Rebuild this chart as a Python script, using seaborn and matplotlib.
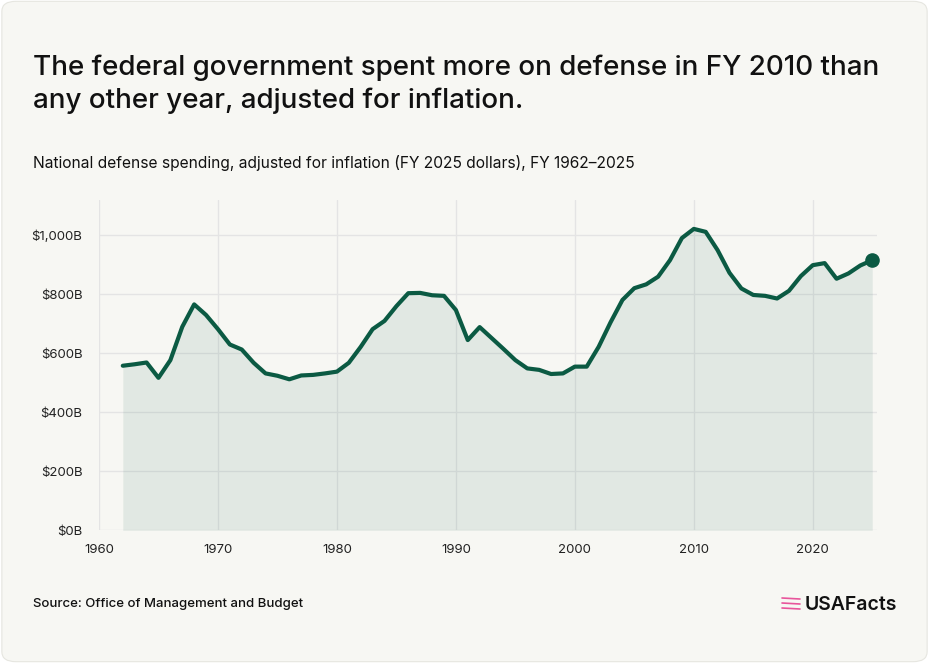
import numpy as np
import pandas as pd
import matplotlib.pyplot as plt
import seaborn as sns
from matplotlib.patches import FancyBboxPatch
from matplotlib.ticker import FuncFormatter

years = list(range(1962, 2026))
spending = [558, 563, 569, 517, 577, 690, 766, 730, 682, 630,
            613, 568, 532, 524, 512, 525, 527, 532, 538, 568,
            622, 682, 710, 760, 804, 805, 797, 795, 747, 645,
            689, 652, 615, 577, 549, 544, 530, 532, 555, 555,
            622, 705, 781, 821, 834, 860, 916, 991, 1022, 1012,
            950, 873, 820, 798, 795, 786, 812, 862, 899, 906,
            853, 871, 898, 916]

df = pd.DataFrame({'year': years, 'spending': spending})

bg = '#f7f7f3'
green = '#0b5a43'

sns.set_theme(style='white')
plt.rcParams['font.family'] = ['Inter', 'DejaVu Sans']

fig = plt.figure(figsize=(9.29, 6.63), dpi=100)
fig.patch.set_facecolor('white')
card = FancyBboxPatch((0.002, 0.002), 0.996, 0.996,
                      boxstyle='round,pad=0,rounding_size=0.015',
                      transform=fig.transFigure, facecolor=bg,
                      edgecolor='#e6e6e0', linewidth=0.8, zorder=-10)
fig.patches.append(card)

ax = fig.add_axes([99 / 929, (663 - 530.3) / 663, 778 / 929, 330.3 / 663])
ax.set_zorder(1)
ax.set_facecolor(bg)

ax.fill_between(df['year'], df['spending'], color=green, alpha=0.09, linewidth=0, zorder=2)
sns.lineplot(data=df, x='year', y='spending', color=green, linewidth=3, ax=ax, zorder=3)
ax.scatter([years[-1]], [spending[-1]], s=90, color=green, zorder=4, clip_on=False)

ax.set_xlim(1960, 2025.4)
ax.set_ylim(0, 1120)
ax.set_xticks(range(1960, 2030, 10))
ax.set_yticks(range(0, 1200, 200))
ax.yaxis.set_major_formatter(FuncFormatter(lambda v, p: f'${int(v):,}B'))
ax.grid(True, color='#e4e4e4', linewidth=1, zorder=0)
ax.set_axisbelow(True)
for s in ax.spines.values():
    s.set_visible(False)
ax.tick_params(axis='both', length=0, labelsize=9.5, colors='#222222')
ax.tick_params(axis='x', pad=10)
ax.tick_params(axis='y', pad=12)
ax.set_xlabel('')
ax.set_ylabel('')

fig.text(33 / 929, 1 - 84 / 663,
         'The federal government spent more on defense in FY 2010 than\nany other year, adjusted for inflation.',
         fontsize=20, fontweight='medium', color='#111111', va='center', linespacing=1.3)
fig.text(33 / 929, 1 - 163 / 663,
         'National defense spending, adjusted for inflation (FY 2025 dollars), FY 1962\u20132025',
         fontsize=11.2, color='#111111', va='center')
fig.text(33 / 929, 1 - 604 / 663, 'Source: Office of Management and Budget',
         fontsize=9.5, fontweight='medium', color='#111111', va='center')
fig.text(897 / 929, 1 - 605 / 663, 'USAFacts', fontsize=14, fontweight='semibold',
         color='#111111', va='center', ha='right')
# small pink mark for the logo
for i in range(3):
    fig.add_artist(plt.Line2D([782 / 929, 800 / 929],
                              [1 - (598 + i * 5) / 663, 1 - (599 + i * 5) / 663],
                              color='#e8559b', linewidth=1.2))

fig.savefig('out.png', dpi=100, facecolor=fig.get_facecolor())
